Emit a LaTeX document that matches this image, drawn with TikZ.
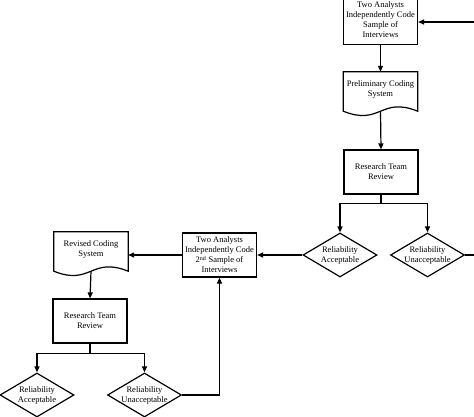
\documentclass[tikz,border=0pt]{standalone}
\usepackage{fontspec}
\setmainfont{Liberation Serif}
\usetikzlibrary{shapes.geometric,arrows.meta}

\tikzset{
  procbox/.style={draw=col_line, fill=col_fill, line width=1.2pt, minimum width=74pt,
    minimum height=44pt, inner sep=0pt, align=center, text=col_lab,
    font=\fontsize{8.5}{10}\selectfont},
  docbox/.style={minimum width=74pt, minimum height=34pt, inner sep=0pt, align=center,
    text=col_lab, font=\fontsize{8.5}{10}\selectfont},
  decision/.style={diamond, draw=col_line, fill=col_fill, line width=1.2pt, aspect=1.68,
    minimum width=74pt, minimum height=44pt, inner xsep=-2pt, inner ysep=0pt,
    align=center, text=col_lab, font=\fontsize{8.5}{10}\selectfont},
  docline/.style={draw=col_line, line width=1.2pt},
  flow/.style={draw=col_line, line width=1.2pt, -{Triangle[length=6pt,width=5pt]}},
  link/.style={draw=col_line, line width=1.2pt}
}

\begin{document}
\begin{tikzpicture}[x=1pt,y=-1pt]
%
\definecolor{col_line}{rgb}{0.0,0.0,0.0}
\definecolor{col_fill}{rgb}{1.0,1.0,1.0}
\definecolor{col_lab}{rgb}{0.0,0.0,0.0}
%
\useasboundingbox (0,0) rectangle (474,417);
%
% first round
\node[procbox, minimum height=50pt] (code1) at (380.5,19.5)
  {Two Analysts\\Independently Code\\Sample of\\Interviews};
\node[docbox] (prelim) at (380.5,89) {Preliminary Coding\\System};
\draw[docline] (prelim.north west) -- (prelim.north east) -- ([yshift=-5pt]prelim.south east)
  .. controls ([yshift=10pt]prelim.south) and ([yshift=-20pt]prelim.south) .. ([yshift=-5pt]prelim.south west)
  -- cycle;
\coordinate (prelim_w) at ([yshift=-5pt]prelim.south);
\node[procbox] (review1) at (381,172) {Research Team\\Review};
\node[decision] (acc1) at (340,255) {Reliability\\Acceptable};
\node[decision] (unacc1) at (427.5,255) {Reliability\\Unacceptable};
%
% second round
\node[procbox] (code2) at (219.5,255)
  {Two Analysts\\Independently Code\\2\textsuperscript{nd} Sample of\\Interviews};
\node[docbox] (revised) at (91,249) {Revised Coding\\System};
\draw[docline] (revised.north west) -- (revised.north east) -- ([yshift=-5pt]revised.south east)
  .. controls ([yshift=10pt]revised.south) and ([yshift=-20pt]revised.south) .. ([yshift=-5pt]revised.south west)
  -- cycle;
\coordinate (revised_w) at ([yshift=-5pt]revised.south);
\node[procbox] (review2) at (90,321) {Research Team\\Review};
\node[decision] (acc2) at (37,395) {Reliability\\Acceptable};
\node[decision] (unacc2) at (144.5,395) {Reliability\\Unacceptable};
%
% free ends at the right edge
\coordinate (edge_a) at (474,22);
\coordinate (edge_b) at (474,255);
%
\draw[flow] (edge_a) -- (code1.east |- edge_a);
\draw[flow] (code1.south) -- (prelim.north);
\draw[flow] (prelim_w) -- (review1.north);
\draw[flow] (review1.south) -- ++(0,9) -| (acc1.north);
\draw[flow] (review1.south) -- ++(0,9) -| (unacc1.north);
\draw[link] (unacc1.east) -- (edge_b);
\draw[flow] (acc1.west) -- (code2.east);
%
\draw[flow] (code2.west) -- (code2.west -| revised.east);
\draw[flow] (revised_w) -- (review2.north);
\draw[flow] (review2.south) -- ++(0,10) -| (acc2.north);
\draw[flow] (review2.south) -- ++(0,10) -| (unacc2.north);
\draw[flow] (unacc2.east) -| (code2.south);
%
\end{tikzpicture}
\end{document}
